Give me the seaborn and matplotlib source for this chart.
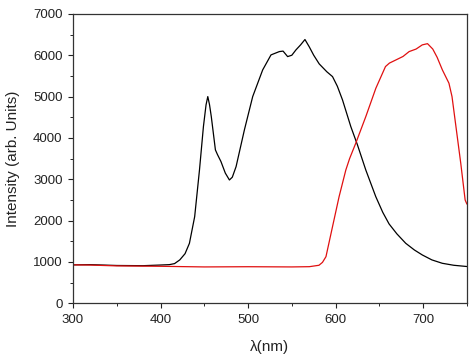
import numpy as np
import pandas as pd
import matplotlib
matplotlib.use("Agg")
import matplotlib.pyplot as plt
from matplotlib.ticker import MultipleLocator
import seaborn as sns

# valores (espectros)
wl_black = [300, 320, 350, 380, 399, 410, 416, 422, 428, 433, 439, 444.5, 449, 452, 454,
            456, 458, 462.7, 465, 469, 474, 478.7, 482, 486.3, 495.8, 505.3, 516.7, 526.2,
            535.7, 540, 545.2, 550, 554.7, 560, 565, 570, 575, 581.3, 590, 596.5, 602,
            607.9, 617.4, 625, 634.5, 645.9, 653.9, 661.1, 670, 680.1, 690, 699.1, 710,
            721.9, 735, 750]
int_black = [930, 935, 915, 910, 925, 935, 960, 1050, 1200, 1450, 2095, 3225, 4273, 4800, 5000,
             4800, 4515, 3710, 3600, 3430, 3150, 2983, 3050, 3305, 4193, 5000, 5645, 6008,
             6088, 6100, 5967, 6000, 6129, 6250, 6380, 6200, 6000, 5790, 5600, 5483, 5250,
             4919, 4273, 3830, 3225, 2580, 2200, 1920, 1680, 1452, 1290, 1169, 1050,
             968, 920, 890]

wl_red = [300, 320, 350, 400, 450, 500, 550, 570, 581, 585, 589, 596.5, 604, 611.7, 616,
          623, 634.5, 646, 657, 661.5, 669, 677, 684, 692, 699, 705, 711, 716, 722, 729.5,
          733, 737, 743, 748, 750]
int_red = [930, 925, 905, 895, 880, 885, 880, 886, 920, 990, 1128, 1855, 2580, 3225, 3500,
           3870, 4515, 5202, 5726, 5810, 5887, 5970, 6088, 6150, 6250, 6280, 6150, 5950, 5645, 5323,
           5000, 4354, 3386, 2499, 2400]

sns.set_style("ticks")
plt.rcParams['font.family'] = ['Liberation Sans', 'DejaVu Sans']

fig = plt.figure(figsize=(4.74, 3.56), dpi=100)
ax = fig.add_axes([0.154, 0.148, 0.831, 0.813])

sns.lineplot(x=wl_black, y=int_black, color="black", linewidth=0.9, ax=ax)
sns.lineplot(x=wl_red, y=int_red, color="#e01010", linewidth=0.9, ax=ax)

ax.set_xlim(300, 750)
ax.set_ylim(0, 7000)
ax.xaxis.set_major_locator(MultipleLocator(100))
ax.xaxis.set_minor_locator(MultipleLocator(50))
ax.yaxis.set_major_locator(MultipleLocator(1000))
ax.yaxis.set_minor_locator(MultipleLocator(500))
ax.tick_params(which="major", direction="out", length=3.5, width=0.8, labelsize=9.5,
               colors="#222222", pad=4)
ax.tick_params(which="minor", direction="out", length=2, width=0.7)
for s in ax.spines.values():
    s.set_linewidth(0.9)
    s.set_color("#333333")

ax.set_xlabel("λ(nm)", fontsize=11, color="#222222", labelpad=10)
ax.set_ylabel("Intensity (arb. Units)", fontsize=11, color="#222222", labelpad=9)

fig.savefig("out.png", dpi=100)
